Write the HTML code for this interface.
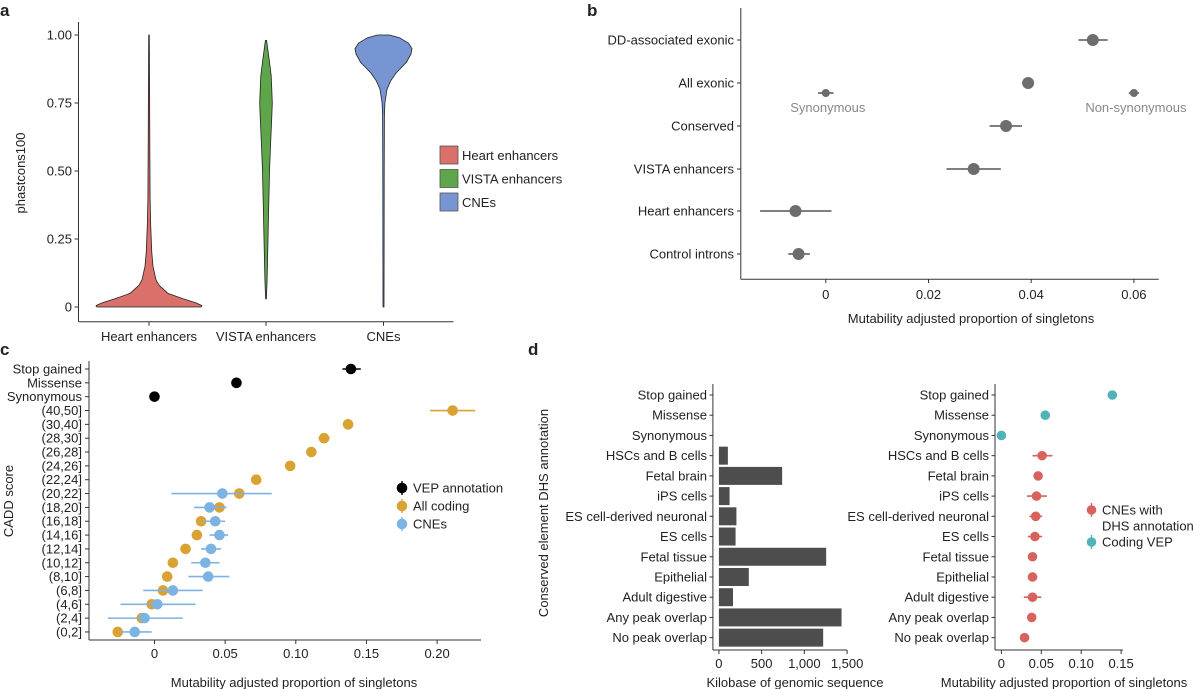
<!DOCTYPE html>
<html><head><meta charset="utf-8">
<style>
html,body{margin:0;padding:0;background:#fff;}
svg{display:block;font-family:"Liberation Sans",sans-serif;}
text{fill:#222;}
</style></head>
<body>
<svg id="fig" width="1200" height="689" viewBox="0 0 1200 689" xmlns="http://www.w3.org/2000/svg">
<g id="pa"></g>
<g id="pb"></g>
<g id="pc"></g>
<g id="pd"></g>
</svg>
<script>
// ---------- Panel a data ----------
const violinNames = ["Heart enhancers","VISTA enhancers","CNEs"];
const violinColors = ["#d9706a","#5fa549","#7795d2"];
const heartV = [0,0.005,0.015,0.03,0.05,0.08,0.1,0.15,0.2,0.3,0.4,0.6,0.8,1.0];
const heartW = [52,53,47,34,19,10,7,4,2.8,1.7,1.1,0.8,0.6,0.35];
const vistaV = [0.03,0.1,0.2,0.3,0.4,0.5,0.6,0.7,0.75,0.8,0.85,0.9,0.95,0.98];
const vistaW = [0.4,1.1,1.7,2.3,2.9,3.5,4.6,5.8,6.3,5.8,5.2,3.5,1.7,0.6];
const cneV = [0,0.2,0.5,0.7,0.75,0.8,0.83,0.86,0.9,0.93,0.95,0.97,0.99,1.0];
const cneW = [0.5,0.6,0.7,0.9,1.4,3.5,7,12.5,23,27.5,28.5,25,16,6];
const aTicks = [0,0.25,0.5,0.75,1.0];
const aTickLabels = ["0","0.25","0.50","0.75","1.00"];

// ---------- Panel b data ----------
const bCats = ["DD-associated exonic","All exonic","Conserved","VISTA enhancers","Heart enhancers","Control introns"];
const bVal = [0.052,0.0394,0.0351,0.0288,-0.0059,-0.0053];
const bLo = [0.0492,0.0394,0.0319,0.0235,-0.0128,-0.0073];
const bHi = [0.0549,0.0394,0.0382,0.0341,0.0011,-0.0031];
const bSubVal = [0,0.06];
const bSubLo = [-0.0015,0.0590];
const bSubHi = [0.0015,0.0610];
const bSubLabels = ["Synonymous","Non-synonymous"];
const bTicks = [0,0.02,0.04,0.06];
const bTickLabels = ["0","0.02","0.04","0.06"];

// ---------- Panel c data ----------
const cCats = ["Stop gained","Missense","Synonymous","(40,50]","(30,40]","(28,30]","(26,28]","(24,26]","(22,24]","(20,22]","(18,20]","(16,18]","(14,16]","(12,14]","(10,12]","(8,10]","(6,8]","(4,6]","(2,4]","(0,2]"];
const vepVal = [0.139,0.058,0];
const vepLo = [0.133,0.058,0];
const vepHi = [0.146,0.058,0];
const codVal = [0.211,0.137,0.120,0.111,0.096,0.072,0.060,0.046,0.033,0.030,0.022,0.013,0.009,0.006,-0.002,-0.009,-0.026];
const codLo = [0.195,0.137,0.116,0.111,0.096,0.072,0.060,0.042,0.030,0.030,0.022,0.013,0.009,0.006,-0.002,-0.009,-0.026];
const codHi = [0.227,0.137,0.124,0.111,0.096,0.072,0.060,0.050,0.036,0.030,0.022,0.013,0.009,0.006,-0.002,-0.009,-0.026];
const cneCats = ["(20,22]","(18,20]","(16,18]","(14,16]","(12,14]","(10,12]","(8,10]","(6,8]","(4,6]","(2,4]","(0,2]"];
const cneVal = [0.048,0.039,0.043,0.046,0.040,0.036,0.038,0.013,0.002,-0.007,-0.014];
const cneLo = [0.012,0.028,0.034,0.039,0.033,0.026,0.024,-0.008,-0.024,-0.033,-0.024];
const cneHi = [0.083,0.051,0.050,0.052,0.047,0.046,0.053,0.034,0.029,0.020,-0.002];
const cTicks = [0,0.05,0.10,0.15,0.20];
const cTickLabels = ["0","0.05","0.10","0.15","0.20"];

// ---------- Panel d data ----------
const dCats = ["Stop gained","Missense","Synonymous","HSCs and B cells","Fetal brain","iPS cells","ES cell-derived neuronal","ES cells","Fetal tissue","Epithelial","Adult digestive","Any peak overlap","No peak overlap"];
const dKb = [0,0,0,105,740,125,205,195,1255,350,165,1435,1220];
const dVal = [0.139,0.055,0,0.051,0.046,0.044,0.043,0.042,0.039,0.039,0.039,0.038,0.029];
const dLo = [0.139,0.055,0,0.039,0.043,0.032,0.035,0.033,0.037,0.033,0.028,0.036,0.027];
const dHi = [0.139,0.055,0,0.064,0.049,0.057,0.051,0.051,0.041,0.045,0.050,0.040,0.031];
const dGroup = [1,1,1,0,0,0,0,0,0,0,0,0,0];
const dBarTicks = [0,500,1000,1500];
const dBarTickLabels = ["0","500","1,000","1,500"];
const dPtTicks = [0,0.05,0.10,0.15];
const dPtTickLabels = ["0","0.05","0.10","0.15"];

const NS="http://www.w3.org/2000/svg";
function mk(parent,tag,attrs,txt){const e=document.createElementNS(NS,tag);for(const k in attrs)e.setAttribute(k,attrs[k]);if(txt!==undefined)e.textContent=txt;parent.appendChild(e);return e;}
const AX="#333";

// ===== Panel a =====
(function(){
const g=document.getElementById('pa');
const y=v=>307-v*272; const cx=[149,266,383.5];
let t=mk(g,'text',{x:0,y:16,'font-size':17,'font-weight':'bold'},'a');

let l=mk(g,'line',{x1:78.5,y1:22,x2:78.5,y2:321.7,stroke:AX,'stroke-width':1});

l=mk(g,'line',{x1:78.5,y1:321.7,x2:453.5,y2:321.7,stroke:AX,'stroke-width':1});

aTicks.forEach((v,i)=>{
 mk(g,'line',{x1:74.5,y1:y(v),x2:78.5,y2:y(v),stroke:AX});
 const tt=mk(g,'text',{x:72,y:y(v)+4.5,'font-size':13,'text-anchor':'end'},aTickLabels[i]);
 
});
const yt=mk(g,'text',{x:0,y:0,'font-size':13,'text-anchor':'middle',transform:'translate(25,173) rotate(-90)'},'phastcons100');

const sets=[[heartV,heartW],[vistaV,vistaW],[cneV,cneW]];
sets.forEach((s,i)=>{
 const V=s[0],W=s[1];let d='';
 V.forEach((v,j)=>{d+=(j?'L':'M')+(cx[i]+W[j]).toFixed(1)+','+y(v).toFixed(1);});
 for(let j=V.length-1;j>=0;j--)d+='L'+(cx[i]-W[j]).toFixed(1)+','+y(V[j]).toFixed(1);
 d+='Z';
 const p=mk(g,'path',{d:d,fill:violinColors[i],stroke:'#222','stroke-width':0.8,'stroke-linejoin':'round'});
 
 
 mk(g,'line',{x1:cx[i],y1:321.7,x2:cx[i],y2:325.7,stroke:AX});
 const xl=mk(g,'text',{x:cx[i],y:341,'font-size':13,'text-anchor':'middle'},violinNames[i]);
 
 const r=mk(g,'rect',{x:440,y:146+i*23.5,width:18,height:18,fill:violinColors[i],stroke:'#555','stroke-width':0.8});
 
 const lt=mk(g,'text',{x:462,y:160+i*23.5,'font-size':13},violinNames[i]);
 
});
})();

// ===== Panel b =====
(function(){
const g=document.getElementById('pb');
const x=v=>825.8+v*5135; const rowY=[40,83,126,169,211,254];
const t=mk(g,'text',{x:587,y:16,'font-size':17,'font-weight':'bold'},'b');

let l=mk(g,'line',{x1:740.8,y1:8,x2:740.8,y2:279.3,stroke:AX});

l=mk(g,'line',{x1:740.8,y1:279.3,x2:1158.7,y2:279.3,stroke:AX});

bCats.forEach((c,i)=>{
 mk(g,'line',{x1:737,y1:rowY[i],x2:740.8,y2:rowY[i],stroke:AX});
 const tl=mk(g,'text',{x:734,y:rowY[i]+4.5,'font-size':13,'text-anchor':'end'},c);
 
 const e=mk(g,'line',{x1:x(bLo[i]),y1:rowY[i],x2:x(bHi[i]),y2:rowY[i],stroke:'#6d6d6d','stroke-width':1.8});
 
 const p=mk(g,'circle',{cx:x(bVal[i]),cy:rowY[i],r:6,fill:'#6d6d6d'});
 
});
bSubVal.forEach((v,i)=>{
 const e=mk(g,'line',{x1:x(bSubLo[i]),y1:93,x2:x(bSubHi[i]),y2:93,stroke:'#6d6d6d','stroke-width':1.8});
 
 const p=mk(g,'circle',{cx:x(v),cy:93,r:4,fill:'#6d6d6d'});
 
 const tl=mk(g,'text',{x:x(v)+2,y:112,'font-size':13,'text-anchor':'middle',style:'fill:#888'},bSubLabels[i]);
 
});
bTicks.forEach((v,i)=>{
 mk(g,'line',{x1:x(v),y1:279.3,x2:x(v),y2:283,stroke:AX});
 const tl=mk(g,'text',{x:x(v),y:299,'font-size':13,'text-anchor':'middle'},bTickLabels[i]);
 
});
const xt=mk(g,'text',{x:971,y:323,'font-size':13,'text-anchor':'middle'},'Mutability adjusted proportion of singletons');

})();

// ===== Panel c =====
(function(){
const g=document.getElementById('pc');
const x=v=>154.5+v*1413; const y=i=>369+i*13.84;
const t=mk(g,'text',{x:0,y:355,'font-size':17,'font-weight':'bold'},'c');

let l=mk(g,'line',{x1:89,y1:361,x2:89,y2:640,stroke:AX});

l=mk(g,'line',{x1:89,y1:640,x2:481,y2:640,stroke:AX});

cCats.forEach((c,i)=>{
 mk(g,'line',{x1:85,y1:y(i),x2:89,y2:y(i),stroke:AX});
 const tl=mk(g,'text',{x:82,y:y(i)+4.5,'font-size':13,'text-anchor':'end'},c);
 
});
function series(vals,lo,hi,offset,col,name){
 vals.forEach((v,k)=>{
  const yy=y(offset(k));
  const e=mk(g,'line',{x1:x(lo[k]),y1:yy,x2:x(hi[k]),y2:yy,stroke:col,'stroke-width':1.6});
  
  const p=mk(g,'circle',{cx:x(v),cy:yy,r:5.3,fill:col});
  
 });
}
series(vepVal,vepLo,vepHi,k=>k,'#000','vep');
series(codVal,codLo,codHi,k=>k+3,'#d9a233','coding');
series(cneVal,cneLo,cneHi,k=>cCats.indexOf(cneCats[k]),'#7db3e2','cne');
cTicks.forEach((v,i)=>{
 mk(g,'line',{x1:x(v),y1:640,x2:x(v),y2:644,stroke:AX});
 const tl=mk(g,'text',{x:x(v),y:658,'font-size':13,'text-anchor':'middle'},cTickLabels[i]);
 
});
const xt=mk(g,'text',{x:294,y:687,'font-size':13,'text-anchor':'middle'},'Mutability adjusted proportion of singletons');

const yt=mk(g,'text',{x:0,y:0,'font-size':13,'text-anchor':'middle',transform:'translate(13,501) rotate(-90)'},'CADD score');

const leg=[["VEP annotation","#000"],["All coding","#d9a233"],["CNEs","#7db3e2"]];
leg.forEach((e,i)=>{
 const yy=488+i*18;
 mk(g,'line',{x1:402,y1:yy-7,x2:402,y2:yy+7,stroke:e[1],'stroke-width':1.4});
 const c=mk(g,'circle',{cx:402,cy:yy,r:5.3,fill:e[1]});
 
 const tl=mk(g,'text',{x:413,y:yy+4.5,'font-size':13},e[0]);
 
});
})();

// ===== Panel d =====
(function(){
const g=document.getElementById('pd');
const y=i=>395+i*20.22;
const xb=v=>718.9+v*(128.2/1500);
const xp=v=>1001.4+v*798;
const t=mk(g,'text',{x:528,y:355,'font-size':17,'font-weight':'bold'},'d');

const yt=mk(g,'text',{x:0,y:0,'font-size':13,'text-anchor':'middle',transform:'translate(548,513) rotate(-90)'},'Conserved element DHS annotation');

let l=mk(g,'line',{x1:712.9,y1:384,x2:712.9,y2:650,stroke:AX});

l=mk(g,'line',{x1:712.9,y1:650,x2:847,y2:650,stroke:AX});

l=mk(g,'line',{x1:995,y1:384,x2:995,y2:650,stroke:AX});

l=mk(g,'line',{x1:995,y1:650,x2:1123,y2:650,stroke:AX});

dCats.forEach((c,i)=>{
 mk(g,'line',{x1:709.5,y1:y(i),x2:712.9,y2:y(i),stroke:AX});
 let tl=mk(g,'text',{x:707,y:y(i)+4.5,'font-size':13,'text-anchor':'end'},c);
 
 if(dKb[i]>0){
  const r=mk(g,'rect',{x:xb(0),y:y(i)-9,width:xb(dKb[i])-xb(0),height:18,fill:'#4d4d4d'});
  
 }
 mk(g,'line',{x1:991.5,y1:y(i),x2:995,y2:y(i),stroke:AX});
 tl=mk(g,'text',{x:989,y:y(i)+4.5,'font-size':13,'text-anchor':'end'},c);
 
 const col=dGroup[i]?'#4fb3b8':'#d8625e';
 const e=mk(g,'line',{x1:xp(dLo[i]),y1:y(i),x2:xp(dHi[i]),y2:y(i),stroke:col,'stroke-width':1.6});
 
 const p=mk(g,'circle',{cx:xp(dVal[i]),cy:y(i),r:4.8,fill:col});
 
});
dBarTicks.forEach((v,i)=>{
 mk(g,'line',{x1:xb(v),y1:650,x2:xb(v),y2:654,stroke:AX});
 const tl=mk(g,'text',{x:xb(v),y:668,'font-size':13,'text-anchor':'middle'},dBarTickLabels[i]);
 
});
dPtTicks.forEach((v,i)=>{
 mk(g,'line',{x1:xp(v),y1:650,x2:xp(v),y2:654,stroke:AX});
 const tl=mk(g,'text',{x:xp(v),y:668,'font-size':13,'text-anchor':'middle'},dPtTickLabels[i]);
 
});
let xt=mk(g,'text',{x:795,y:687,'font-size':13,'text-anchor':'middle'},'Kilobase of genomic sequence');

xt=mk(g,'text',{x:1064,y:687,'font-size':13,'text-anchor':'middle'},'Mutability adjusted proportion of singletons');

const leg=[[["CNEs with","DHS annotation"],"#d8625e",510],[["Coding VEP"],"#4fb3b8",542]];
leg.forEach(e=>{
 mk(g,'line',{x1:1091.5,y1:e[2]-7,x2:1091.5,y2:e[2]+7,stroke:e[1],'stroke-width':1.4});
 const c=mk(g,'circle',{cx:1091.5,cy:e[2],r:4.8,fill:e[1]});
 
 e[0].forEach((s,k)=>{
  const tl=mk(g,'text',{x:1102,y:e[2]+4.5+k*16,'font-size':13},s);
  
 });
});
})();
</script>
</body></html>
